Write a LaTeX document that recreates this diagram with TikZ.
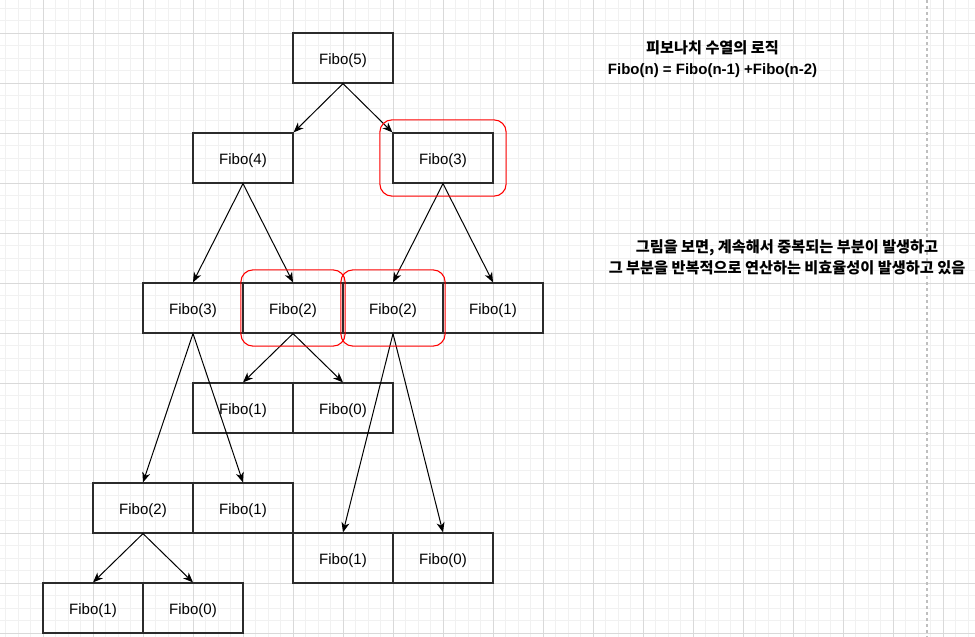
\documentclass[tikz,border=0pt]{standalone}
\usepackage{fontspec}
\setmainfont{Liberation Sans}
\newfontfamily\kr{Noto Sans CJK KR}
\usepackage{tikz}
\usetikzlibrary{arrows.meta,positioning,fit}
\definecolor{gridminor}{HTML}{F1F1F1}
\definecolor{gridmajor}{HTML}{D9D9D9}
\definecolor{boxline}{HTML}{2B2B2B}

\begin{document}
\begin{tikzpicture}[x=1pt, y=-1pt,
  fibo/.style={draw=boxline, line width=1.2pt, minimum width=100pt, minimum height=50pt,
               inner sep=0pt, text height=13pt, text depth=0pt, font=\fontsize{15}{18}\selectfont},
  arr/.style={-{Stealth[length=10pt, width=8pt, inset=3pt]}, line width=1pt},
  dup/.style={draw=red, line width=1.1pt, rounded corners=12pt},
  note/.style={align=center, font=\kr\bfseries\fontsize{15.2}{20.5}\selectfont}]
\useasboundingbox (0,0) rectangle (975,637);
% background grid
\fill[white] (0,0) rectangle (975,637);
\foreach \i in {-3,...,74} \draw[gridminor, line width=0.8pt] ({43+12.5*\i},0) -- ({43+12.5*\i},637);
\foreach \j in {-2,...,48} \draw[gridminor, line width=0.8pt] (0,{33+12.5*\j}) -- (975,{33+12.5*\j});
\foreach \i in {0,...,18} \draw[gridmajor, line width=0.8pt] ({43+50*\i},0) -- ({43+50*\i},637);
\foreach \j in {0,...,12} \draw[gridmajor, line width=0.8pt] (0,{33+50*\j}) -- (975,{33+50*\j});
\draw[gray!50, line width=1.2pt, dashed] (927,0) -- (927,637);
% call tree
\node[fibo] (f5) at (343,58) {Fibo(5)};
\node[fibo] (f4) at (243,158) {Fibo(4)};
\node[fibo] (f3) at (443,158) {Fibo(3)};
\node[fibo] (f4a) at (193,308) {Fibo(3)};
\node[fibo] (f4b) at (293,308) {Fibo(2)};
\node[fibo] (f3a) at (393,308) {Fibo(2)};
\node[fibo] (f3b) at (493,308) {Fibo(1)};
\node[fibo] (f4ba) at (243,408) {Fibo(1)};
\node[fibo] (f4bb) at (343,408) {Fibo(0)};
\node[fibo] (f4aa) at (143,508) {Fibo(2)};
\node[fibo] (f4ab) at (243,508) {Fibo(1)};
\node[fibo] (f3aa) at (343,558) {Fibo(1)};
\node[fibo] (f3ab) at (443,558) {Fibo(0)};
\node[fibo] (f4aaa) at (93,608) {Fibo(1)};
\node[fibo] (f4aab) at (193,608) {Fibo(0)};
\draw[arr] (f5.south) -- (f4.north east);
\draw[arr] (f5.south) -- (f3.north west);
\draw[arr] (f4.south) -- (f4a.north);
\draw[arr] (f4.south) -- (f4b.north);
\draw[arr] (f3.south) -- (f3a.north);
\draw[arr] (f3.south) -- (f3b.north);
\draw[arr] (f4b.south) -- (f4ba.north);
\draw[arr] (f4b.south) -- (f4bb.north);
\draw[arr] (f4a.south) -- (f4aa.north);
\draw[arr] (f4a.south) -- (f4ab.north);
\draw[arr] (f3a.south) -- (f3aa.north);
\draw[arr] (f3a.south) -- (f3ab.north);
\draw[arr] (f4aa.south) -- (f4aaa.north);
\draw[arr] (f4aa.south) -- (f4aab.north);
% repeated sub-problems
\node[dup, fit=(f3), inner xsep=12.5pt, inner ysep=12.5pt] (dup3) {};
\node[dup, fit=(f4b), inner xsep=1.5pt, inner ysep=12.5pt] (dup2a) {};
\node[dup, fit=(f3a), inner xsep=1.5pt, inner ysep=12.5pt] (dup2b) {};
% notes
\node[note] (logic) at (712.5,59) {피보나치 수열의 로직\\{\normalfont\bfseries\fontsize{15}{20.5}\selectfont Fibo(n) = Fibo(n-1) +Fibo(n-2)}};
\node[note] (remark) at (787,257.5) {그림을 보면, 계속해서 중복되는 부분이 발생하고\\그 부분을 반복적으로 연산하는 비효율성이 발생하고 있음};
\end{tikzpicture}
\end{document}
